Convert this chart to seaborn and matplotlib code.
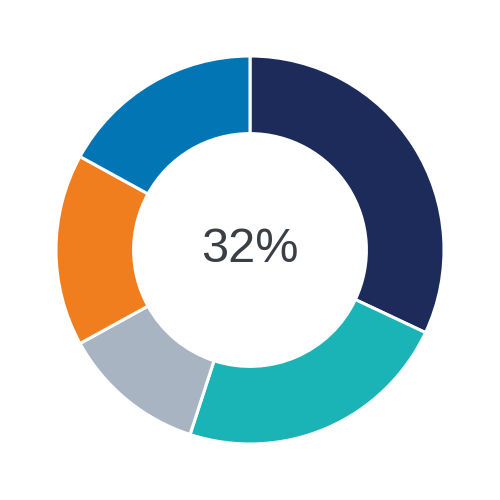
import matplotlib
matplotlib.use("Agg")
import matplotlib.pyplot as plt
import seaborn as sns

# slice data, clockwise from 12 o'clock
segments = ["A", "B", "C", "D", "E"]
shares = [32, 23, 12, 16, 17]
colors = ["#1c2b5a", "#1bb4b6", "#a9b4c2", "#f07e1f", "#0276b4"]
center_label = "32%"

sns.set_style("white")
plt.rcParams['font.family'] = ['Liberation Sans', 'DejaVu Sans']

fig = plt.figure(figsize=(5, 5), dpi=100)
ax = fig.add_axes([0, 0, 1, 1])

ax.pie(shares, colors=colors, startangle=90, counterclock=False,
       radius=1.0,
       wedgeprops=dict(width=0.40, edgecolor="white", linewidth=2.2))

ax.text(0, 0, center_label, ha="center", va="center",
        fontsize=35, color="#3a3f45")

lim = 250 / 194
ax.set_xlim(-lim, lim)
ax.set_ylim(-lim, lim)
ax.set_aspect("equal")
ax.axis("off")

fig.savefig("out.png", dpi=100, facecolor="white")
